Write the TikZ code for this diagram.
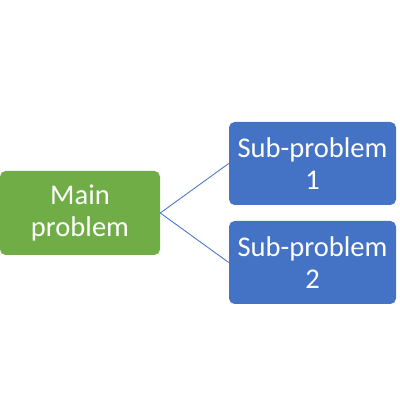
\documentclass[tikz,border=0pt]{standalone}
\usepackage{fontspec}
\setmainfont{Carlito}
\usepackage{tikz}
\definecolor{mgreen}{HTML}{70AD47}
\definecolor{sblue}{HTML}{4472C4}

\begin{document}
\begin{tikzpicture}[mnode/.style={fill=mgreen, draw=none, rounded corners=4pt, minimum width=4cm, minimum height=2.1cm, text=white, align=center, font=\fontsize{20.3}{22.7}\selectfont},
  snode/.style={fill=sblue, draw=none, rounded corners=4pt, minimum width=4.175cm, minimum height=2.075cm, text=white, align=center, font=\fontsize{20.3}{22.7}\selectfont}]
    \useasboundingbox (0,0) rectangle (10,10);
    \node[mnode] (main) at (2, 4.675) {Main\\problem};
    \node[snode] (s1) at (7.8125, 5.9125) {Sub-problem\\1};
    \node[snode] (s2) at (7.8125, 3.4375) {Sub-problem\\2};

    \draw[sblue, line width=0.6pt] (main.east) -- (s1.west) ;
    \draw[sblue, line width=0.6pt] (main.east) -- (s2.west) ;
\end{tikzpicture}
\end{document}
